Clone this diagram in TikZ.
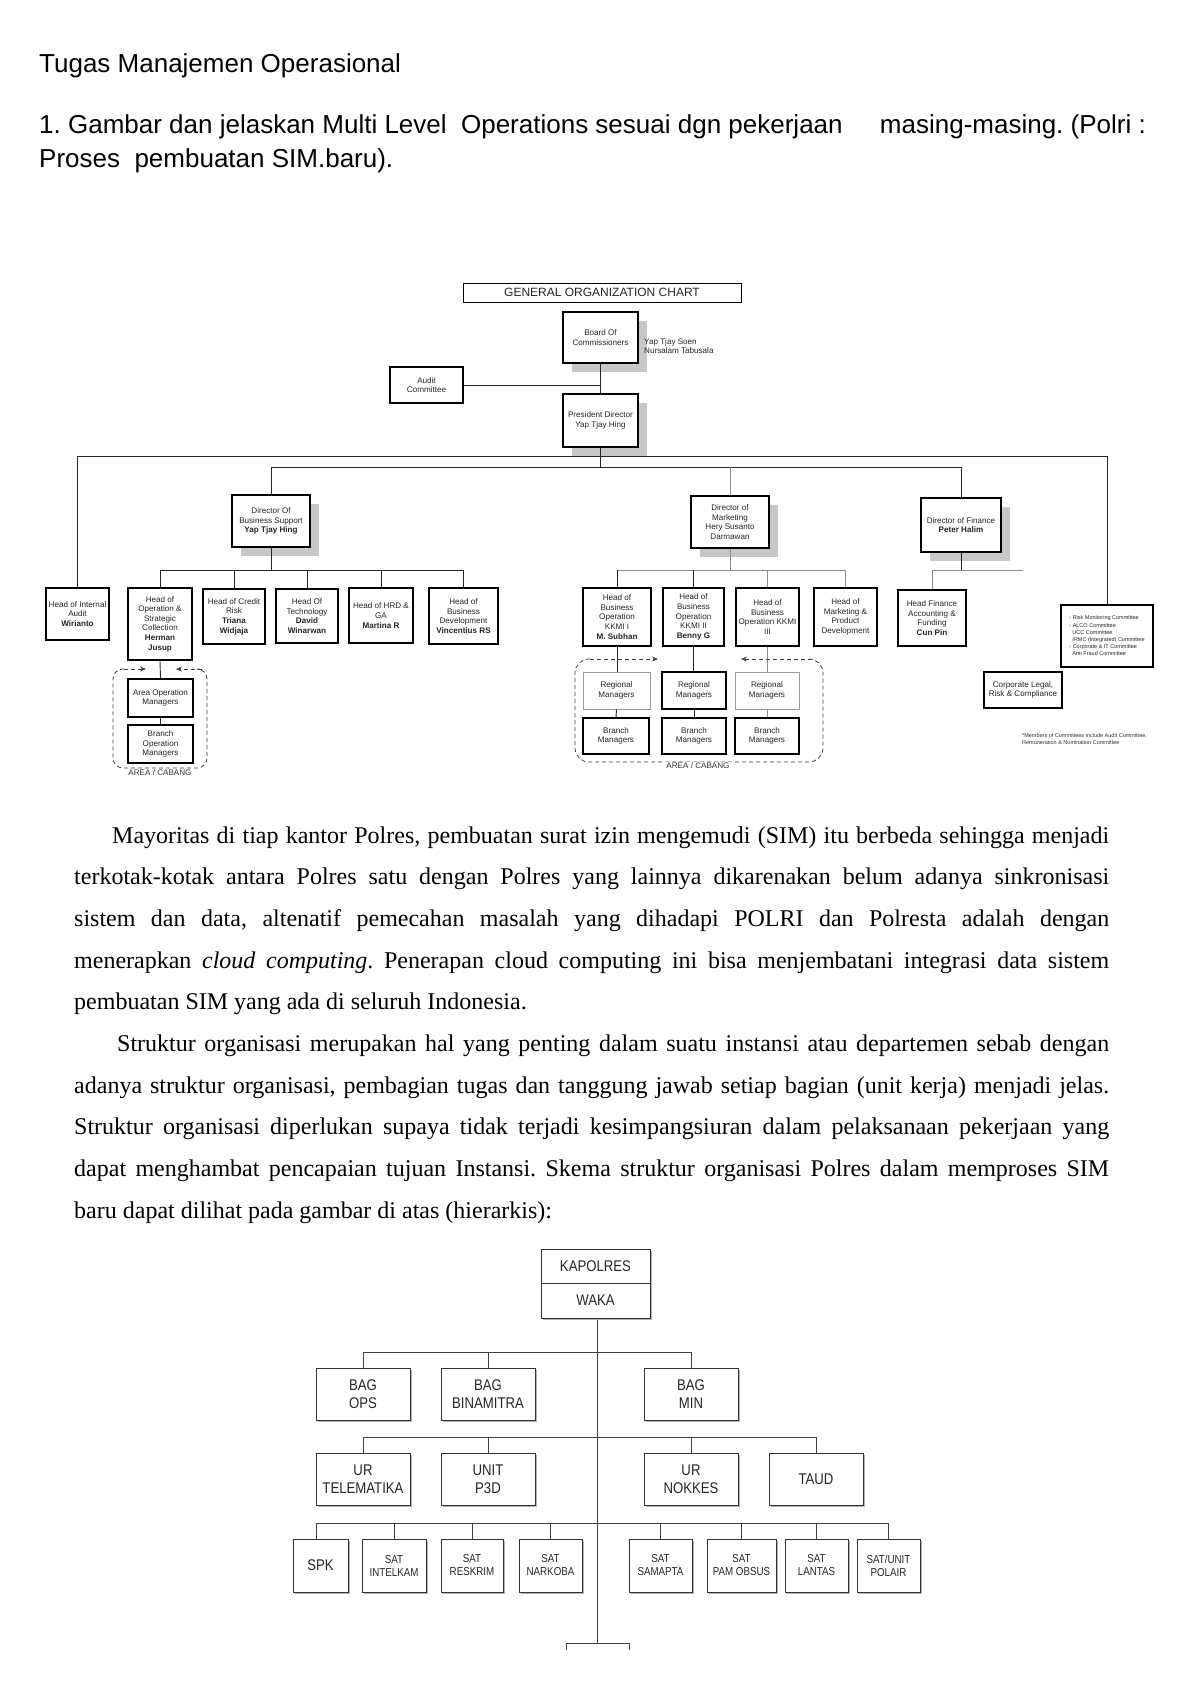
\documentclass[tikz,border=0pt]{standalone}
\usepackage{fontspec}
\setmainfont{Liberation Serif}
\setsansfont{Liberation Sans}
\newfontfamily\condsans[FakeStretch=0.85]{Liberation Sans}
\usetikzlibrary{shadows,arrows.meta}
\frenchspacing
\newcommand\orgf{\sffamily\fontsize{8.1}{9.6}\selectfont}
\newcommand\tinyf{\sffamily\fontsize{5.5}{7.2}\selectfont}
\newcommand\hdfont{\sffamily\fontsize{26}{30}\selectfont}
\newcommand\bodyf{\rmfamily\fontsize{24}{28}\selectfont}
\newcommand\polf{\condsans\fontsize{15.5}{17.5}\selectfont}
\newcommand\satf{\condsans\fontsize{11.5}{13}\selectfont}
\newcommand\obox[7][ob]{%
  \pgfmathsetmacro\obw{#5-#3}\pgfmathsetmacro\obh{#6-#4}%
  \pgfmathsetmacro\obx{(#3+#5)/2}\pgfmathsetmacro\oby{(#4+#6)/2}%
  \node[#1,minimum width=\obw pt,minimum height=\obh pt] (#2) at (\obx,\oby) {#7};}
\begin{document}
\begin{tikzpicture}[x=1pt,y=-1pt,
 ob/.style={draw=black, line width=1.1pt, fill=white, align=center, inner sep=1pt, font=\orgf, text=black!85},
 obl/.style={ob, draw=black!40, line width=0.8pt},
 tb/.style={ob, line width=1pt, font=\sffamily\fontsize{12}{14}\selectfont},
 sh/.style={drop shadow={shadow xshift=9pt, shadow yshift=-9pt, fill=black!22, opacity=1}},
 ln/.style={line width=0.9pt, draw=black!85},
 lng/.style={line width=0.8pt, draw=black!45},
 dl/.style={line width=0.8pt, draw=black!75, dash pattern=on 4pt off 3pt},
 dla/.style={dl, -{Stealth[length=6pt,width=5pt]}},
 pb/.style={draw=black!80, line width=1pt, fill=white, align=center, inner sep=1pt, text=black!85, drop shadow={shadow xshift=1.5pt, shadow yshift=-1.5pt, fill=black!30, opacity=1}},
 pbn/.style={pb, font=\polf},
 sb/.style={pb, font=\satf},
 plin/.style={line width=1pt, draw=black!75},
 grplbl/.style={font=\orgf, text=black!80, fill=white, inner sep=1pt},
 txt/.style={anchor=base west, inner sep=0}
]
\useasboundingbox (0,0) rectangle (1200,1698);
\fill[white] (0,0) rectangle (1200,1698);

% ---------- heading ----------
\node[txt, font=\hdfont] (t1) at (39,72) {Tugas Manajemen Operasional};
\node[txt, font=\hdfont] (t2a) at (39,133) {1. Gambar dan jelaskan Multi Level\ \ Operations sesuai dgn pekerjaan};
\node[anchor=base east, inner sep=0, font=\hdfont] (t2b) at (1146,133) {masing-masing. (Polri :};
\node[txt, font=\hdfont] (t3) at (39,167) {Proses\ \ pembuatan SIM.baru).};

% ---------- general organization chart ----------
\obox[tb]{goc}{463}{283}{741}{302}{GENERAL ORGANIZATION CHART}
\obox[ob,sh]{brd}{563}{312}{638}{363}{Board Of\\Commissioners}
\node[anchor=west, align=left, font=\orgf, text=black!85, inner sep=0] (bnm) at (644,346) {Yap Tjay Soen\\Nursalam Tabusala};
\obox{aud}{390}{367}{463}{403}{Audit\\Committee}
\obox[ob,sh]{pres}{563}{394}{638}{447}{President Director\\Yap Tjay Hing}
\draw[ln] (brd.south) -- (pres.north);
\draw[ln] (aud.east) -- (aud.east -| brd.south);

\obox{hia}{46}{588}{109}{640}{Head of Internal\\Audit\\\textbf{Wirianto}}
\obox[ob, font=\tinyf, align=left]{com}{1061}{605}{1153}{667}{- Risk Monitoring Committee\\- ALCO Committee\\\ \ UCC Committee\\\ \ IRMC (Integrated) Committee\\- Corporate \& IT Committee\\\ \ Anti Fraud Committee}
\draw[ln] (hia.north) -- ++(0,-131) -| (com.north);

\obox[ob,sh]{dbs}{232}{495}{310}{547}{Director Of\\Business Support\\\textbf{Yap Tjay Hing}}
\obox[ob,sh]{dmk}{691}{496}{769}{548}{Director of\\Marketing\\Hery Susanto\\Darmawan}
\obox[ob,sh]{dfn}{921}{498}{1001}{552}{Director of Finance\\\textbf{Peter Halim}}
\coordinate (ib) at (600,467);
\draw[ln] (pres.south) -- (pres.south |- ib);
\draw[ln] (dbs.north |- ib) -- (dfn.north |- ib);
\draw[ln] (dbs.north |- ib) -- (dbs.north);
\draw[lng] (dmk.north |- ib) -- (dmk.north);
\draw[ln] (dfn.north |- ib) -- (dfn.north);

% business support children
\obox{hoc}{128}{588}{192}{660}{Head of\\Operation \&\\Strategic\\Collection\\\textbf{Herman}\\\textbf{Jusup}}
\obox{hcr}{203}{589}{265}{644}{Head of Credit\\Risk\\\textbf{Triana}\\\textbf{Widjaja}}
\obox{hte}{276}{589}{338}{643}{Head Of\\Technology\\\textbf{David}\\\textbf{Winarwan}}
\obox{hhr}{349}{588}{413}{643}{Head of HRD \&\\GA\\\textbf{Martina R}}
\obox{hbd}{429}{588}{498}{644}{Head of\\Business\\Development\\\textbf{Vincentius RS}}
\coordinate (bsb) at (271,570);
\draw[ln] (dbs.south) -- (dbs.south |- bsb);
\draw[ln] (hoc.north |- bsb) -- (hbd.north |- bsb);
\foreach \n in {hoc,hcr,hte,hhr,hbd} \draw[ln] (\n.north |- bsb) -- (\n.north);

\obox{aom}{128}{679}{193}{717}{Area Operation\\Managers}
\obox{bom}{128}{725}{193}{763}{Branch\\Operation\\Managers}
\draw[ln] (hoc.south) -- (aom.north);
\draw[ln] (aom.south) -- (bom.north);
\draw[dl, rounded corners=10pt] (124,669) -- (113,669) -- (113,768) -- (207,768) -- (207,669) -- (202,669);
\draw[dla] (124,669) -- (146,669);
\draw[dla] (202,669) -- (176,669);
\node[grplbl] (lba) at (160,773) {AREA / CABANG};

% marketing children
\obox{hb1}{583}{588}{651}{646}{Head of\\Business\\Operation\\KKMI I\\\textbf{M. Subhan}}
\obox{hb2}{663}{588}{724}{646}{Head of\\Business\\Operation\\KKMI II\\\textbf{Benny G}}
\obox{hb3}{736}{588}{799}{646}{Head of\\Business\\Operation KKMI\\III}
\obox{hmp}{814}{588}{877}{646}{Head of\\Marketing \&\\Product\\Development}
\coordinate (mkb) at (730,570);
\draw[lng] (dmk.south) -- (dmk.south |- mkb);
\draw[lng] (hb1.north |- mkb) -- (hmp.north |- mkb);
\draw[ln] (hb1.north |- mkb) -- (hb1.north);
\draw[ln] (hb2.north |- mkb) -- (hb2.north);
\draw[lng] (hb3.north |- mkb) -- (hb3.north);
\draw[lng] (hmp.north |- mkb) -- (hmp.north);

\obox[obl]{rm1}{583}{672}{650}{709}{Regional\\Managers}
\obox{rm2}{662}{672}{726}{709}{Regional\\Managers}
\obox[obl]{rm3}{735}{672}{799}{709}{Regional\\Managers}
\obox{bm1}{583}{718}{649}{754}{Branch\\Managers}
\obox{bm2}{662}{718}{726}{754}{Branch\\Managers}
\obox{bm3}{735}{718}{799}{754}{Branch\\Managers}
\draw[ln] (hb1.south) -- (hb1.south |- rm1.north);
\draw[ln] (hb2.south) -- (hb2.south |- rm2.north);
\draw[lng] (hb3.south) -- (hb3.south |- rm3.north);
\draw[ln] (rm1.south) -- (bm1.north);
\draw[ln] (rm2.south) -- (bm2.north);
\draw[lng] (rm3.south) -- (bm3.north);
\draw[dl, rounded corners=14pt] (590,659) -- (575,659) -- (575,762) -- (823,762) -- (823,659) -- (812,659);
\draw[dla] (590,659) -- (658,659);
\draw[dla] (812,659) -- (741,659);
\node[grplbl] (lbb) at (698,766) {AREA / CABANG};

% finance children
\obox{hfa}{898}{590}{966}{646}{Head Finance\\Accounting \&\\Funding\\\textbf{Cun Pin}}
\coordinate (fbe) at (1023,570);
\draw[ln] (dfn.south) -- (dfn.south |- fbe);
\draw[lng] (hfa.north) |- (fbe);

\obox{clr}{984}{672}{1062}{708}{Corporate Legal,\\Risk \& Compliance}
\node[anchor=north west, align=left, font=\tinyf, text=black!80, inner sep=0] (fnote) at (1022,733) {*Members of Committees include Audit Committee,\\Remuneration \& Nomination Committee};

% ---------- body text ----------
\node[txt, font=\bodyf] (p1) at (112,843) {\makebox[997pt][s]{Mayoritas di tiap kantor Polres, pembuatan surat izin mengemudi (SIM) itu berbeda sehingga menjadi}};
\node[txt, font=\bodyf] (p2) at (74,884.7) {\makebox[1035pt][s]{terkotak-kotak antara Polres satu dengan Polres yang lainnya dikarenakan belum adanya sinkronisasi}};
\node[txt, font=\bodyf] (p3) at (74,926.3) {\makebox[1035pt][s]{sistem dan data, altenatif pemecahan masalah yang dihadapi POLRI dan Polresta adalah dengan}};
\node[txt, font=\bodyf] (p4) at (74,968) {\makebox[1035pt][s]{menerapkan \textit{cloud computing}. Penerapan cloud computing ini bisa menjembatani integrasi data sistem}};
\node[txt, font=\bodyf] (p5) at (74,1009.7) {pembuatan SIM yang ada di seluruh Indonesia.};
\node[txt, font=\bodyf] (p6) at (117,1051.3) {\makebox[992pt][s]{Struktur organisasi merupakan hal yang penting dalam suatu instansi atau departemen sebab dengan}};
\node[txt, font=\bodyf] (p7) at (74,1093) {\makebox[1035pt][s]{adanya struktur organisasi, pembagian tugas dan tanggung jawab setiap bagian (unit kerja) menjadi jelas.}};
\node[txt, font=\bodyf] (p8) at (74,1134.7) {\makebox[1035pt][s]{Struktur organisasi diperlukan supaya tidak terjadi kesimpangsiuran dalam pelaksanaan pekerjaan yang}};
\node[txt, font=\bodyf] (p9) at (74,1176.3) {\makebox[1035pt][s]{dapat menghambat pencapaian tujuan Instansi. Skema struktur organisasi Polres dalam memproses SIM}};
\node[txt, font=\bodyf] (p10) at (74,1218) {baru dapat dilihat pada gambar di atas (hierarkis):};

% ---------- Polres chart ----------
\coordinate (bend) at (597,1643);
\draw[plin] (597,1318) -- (bend);
\obox[pbn]{kap}{541}{1249}{650}{1283}{KAPOLRES}
\obox[pbn]{waka}{541}{1283}{650}{1318}{WAKA}
\draw[plin] (566,1650) -- (566,1643) -- (629,1643) -- (629,1650);

\obox[pbn]{bops}{316}{1368}{410}{1420}{BAG\\OPS}
\obox[pbn]{bbin}{441}{1368}{535}{1420}{BAG\\BINAMITRA}
\obox[pbn]{bmin}{644}{1368}{738}{1420}{BAG\\MIN}
\coordinate (pb1) at (597,1352);
\draw[plin] (bops.north |- pb1) -- (bmin.north |- pb1);
\foreach \n in {bops,bbin,bmin} \draw[plin] (\n.north |- pb1) -- (\n.north);

\obox[pbn]{urt}{316}{1453}{410}{1505}{UR\\TELEMATIKA}
\obox[pbn]{p3d}{441}{1453}{535}{1505}{UNIT\\P3D}
\obox[pbn]{urn}{644}{1453}{738}{1505}{UR\\NOKKES}
\obox[pbn]{taud}{769}{1453}{863}{1505}{TAUD}
\coordinate (pb2) at (597,1437);
\draw[plin] (urt.north |- pb2) -- (taud.north |- pb2);
\foreach \n in {urt,p3d,urn,taud} \draw[plin] (\n.north |- pb2) -- (\n.north);

\obox[pbn]{spk}{293}{1539}{348}{1592}{SPK}
\obox[sb]{sint}{362}{1539}{426}{1592}{SAT\\INTELKAM}
\obox[sb]{sres}{441}{1539}{503}{1592}{SAT\\RESKRIM}
\obox[sb]{snar}{519}{1539}{582}{1592}{SAT\\NARKOBA}
\obox[sb]{ssam}{629}{1539}{692}{1592}{SAT\\SAMAPTA}
\obox[sb]{spam}{707}{1539}{776}{1592}{SAT\\PAM OBSUS}
\obox[sb]{slan}{785}{1539}{848}{1592}{SAT\\LANTAS}
\obox[sb]{spol}{857}{1539}{920}{1592}{SAT/UNIT\\POLAIR}
\coordinate (pb3) at (316,1523);
\draw[plin] (pb3) -- (spol.north |- pb3);
\draw[plin] (pb3) -- (pb3 |- spk.north);
\foreach \n in {sint,sres,snar,ssam,spam,slan,spol} \draw[plin] (\n.north |- pb3) -- (\n.north);
\end{tikzpicture}
\end{document}
